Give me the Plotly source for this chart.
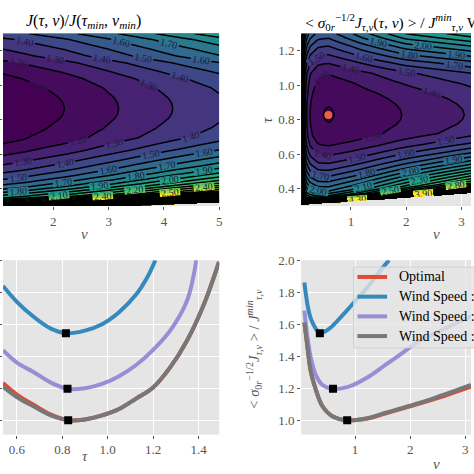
import numpy as np
import plotly.graph_objects as go

W = H = 474
SERIF = "Liberation Serif"
GRAY_TXT = "#555555"

# ---------------- values ----------------
# Top-left field J(tau,nu)/J(tau_min,nu_min): valley (along tau_opt) and rise profiles
A_valley_nu  = [0.10, 0.40, 0.85, 1.09, 1.50, 2.20, 3.18, 4.16, 5.00]
A_valley_val = [1.61, 1.08, 1.00, 1.01, 1.045, 1.10, 1.20, 1.30, 1.38]
A_tau_valley = 0.865
A_up_off     = [0.0, 0.03, 0.06, 0.12, 0.175, 0.22, 0.265, 0.305, 0.345, 0.40, 0.44, 0.50]
A_up_rise    = [0.0, 0.0016, 0.0065, 0.026, 0.062, 0.11, 0.165, 0.24, 0.29, 0.37, 0.46, 0.62]
A_lo_frac    = [0.0, 0.037, 0.072, 0.123, 0.19, 0.225, 0.271, 0.327, 0.395, 0.48, 0.574, 0.70, 0.796, 0.898, 0.949, 1.0]
A_lo_rise    = [6.0, 2.5, 1.5, 1.0, 0.755, 0.655, 0.555, 0.455, 0.355, 0.255, 0.155, 0.055, 0.026, 0.0065, 0.0016, 0.0]
A_scale_nu   = [1.0, 1.5, 3.0, 4.5, 5.0]
A_scale      = [1.0, 1.0, 1.1, 1.25, 1.3]
A_edge_nu    = [1.0, 5.0]
A_edge_tau   = [0.271, 0.32]

# Top-right field <sigma^-1/2 J>/J_min
B_valley_nu  = [0.10, 0.13, 0.17, 0.20, 0.26, 0.40, 0.50, 0.60, 0.70, 0.85, 1.00, 1.50, 1.92, 2.50, 3.05, 3.20]
B_valley_val = [2.30, 1.75, 1.50, 1.40, 1.30, 1.213, 1.20, 1.1955, 1.20, 1.207, 1.215, 1.26, 1.30, 1.35, 1.40, 1.415]
B_tau_valley = 0.83
B_up_off     = [0.0, 0.03, 0.06, 0.09, 0.12, 0.18, 0.24, 0.30, 0.35, 0.40, 0.445, 0.50]
B_up_rise    = [0.0, 0.0017, 0.0068, 0.0155, 0.028, 0.063, 0.11, 0.21, 0.31, 0.41, 0.51, 0.62]
B_lo_frac    = [0.0, 0.018, 0.033, 0.053, 0.082, 0.131, 0.18, 0.238, 0.297, 0.365, 0.443, 0.531, 0.639, 0.766, 0.883, 0.941, 1.0]
B_lo_rise    = [6.0, 3.0, 1.8, 1.3, 1.0, 0.81, 0.71, 0.61, 0.51, 0.41, 0.31, 0.21, 0.11, 0.028, 0.0068, 0.0017, 0.0]
B_up_scale_nu = [0.1, 0.6, 1.2, 2.0, 3.2]
B_up_scale    = [1.0, 1.0, 1.3, 1.6, 1.7]
B_lo_scale_nu = [0.1, 0.6, 1.2, 2.0, 3.2]
B_lo_scale    = [1.0, 1.0, 1.15, 1.4, 1.7]
B_edge_nu    = [0.1, 3.2]
B_edge_tau   = [0.307, 0.375]
B_opt_nu, B_opt_tau = [0.59], [0.828]

# Bottom-left: J vs tau
BL_red_tau  = [0.539, 0.6, 0.675, 0.75, 0.826, 0.9, 0.975, 1.05, 1.125, 1.2, 1.275, 1.35, 1.425, 1.49]
BL_red_J    = [1.232, 1.16, 1.095, 1.035, 1.0, 1.005, 1.03, 1.07, 1.135, 1.205, 1.33, 1.50, 1.73, 1.99]
BL_gray_tau = [0.539, 0.6, 0.675, 0.75, 0.826, 0.9, 0.975, 1.05, 1.125, 1.2, 1.275, 1.35, 1.425, 1.49]
BL_gray_J   = [1.21, 1.145, 1.085, 1.03, 1.0, 1.005, 1.03, 1.07, 1.135, 1.205, 1.33, 1.50, 1.73, 1.99]
BL_purp_tau = [0.539, 0.6, 0.675, 0.75, 0.823, 0.9, 0.975, 1.05, 1.125, 1.2, 1.275, 1.35, 1.39]
BL_purp_J   = [1.437, 1.36, 1.30, 1.235, 1.196, 1.20, 1.227, 1.275, 1.345, 1.44, 1.56, 1.75, 2.0]
BL_blue_tau = [0.539, 0.6, 0.675, 0.75, 0.816, 0.9, 0.975, 1.05, 1.125, 1.175, 1.21]
BL_blue_J   = [1.839, 1.74, 1.645, 1.572, 1.544, 1.56, 1.60, 1.675, 1.785, 1.895, 2.0]

# Bottom-right: J vs nu
BR_red_nu  = [0.078, 0.138, 0.197, 0.287, 0.407, 0.586, 0.856, 1.245, 1.544, 1.963, 2.44, 3.106]
BR_red_J   = [1.61, 1.447, 1.30, 1.19, 1.087, 1.025, 1.0, 1.012, 1.042, 1.083, 1.132, 1.21]
BR_gray_nu = [0.078, 0.138, 0.197, 0.287, 0.407, 0.586, 0.856, 1.245, 1.544, 1.963, 2.44, 3.106]
BR_gray_J  = [1.61, 1.447, 1.30, 1.19, 1.087, 1.025, 1.0, 1.014, 1.045, 1.087, 1.138, 1.22]
BR_purp_nu = [0.078, 0.138, 0.197, 0.287, 0.407, 0.598, 0.886, 1.245, 1.544, 1.843, 2.14, 2.44, 2.74, 3.106]
BR_purp_J  = [1.685, 1.51, 1.386, 1.282, 1.22, 1.196, 1.21, 1.272, 1.344, 1.416, 1.489, 1.54, 1.59, 1.65]
BR_blue_nu = [0.078, 0.138, 0.197, 0.287, 0.359, 0.527, 0.766, 1.005, 1.245, 1.424, 1.616]
BR_blue_J  = [1.86, 1.715, 1.633, 1.571, 1.544, 1.571, 1.654, 1.746, 1.839, 1.92, 2.0]

# minima markers
BL_min_tau = [0.816, 0.823, 0.826]
BL_min_J   = [1.544, 1.196, 1.0]
BR_min_nu  = [0.359, 0.598, 0.856]
BR_min_J   = [1.544, 1.196, 1.0]

legend_names = ["Optimal", "Wind Speed : 5 m/s", "Wind Speed : 10 m/s", "Wind Speed : 15 m/s"]
C_RED, C_BLUE, C_PURP, C_GRAY = "#E24A33", "#348ABD", "#988ED5", "#777777"
legend_colors = [C_RED, C_BLUE, C_PURP, C_GRAY]


def field(nu, tau, vnu, vval, tau0, uoff, urise, lfrac, lrise, sunu, su, slnu, sl, enu, etau):
    N, T = np.meshgrid(nu, tau)
    g = np.interp(N, vnu, vval)
    tb = np.interp(N, enu, etau)
    up = np.interp(T - tau0, uoff, urise) * np.interp(N, sunu, su)
    frac = (T - tb) / (tau0 - tb)
    lo = np.interp(frac, lfrac, lrise) * np.interp(N, slnu, sl)
    Z = np.where(T >= tau0, g + up, g + lo)
    Z = np.where(T < tb, np.nan, Z)
    return Z


nuA = np.linspace(1.0, 5.0, 400)
tauA = np.linspace(0.3, 1.3, 400)
ZA = field(nuA, tauA, A_valley_nu, A_valley_val, A_tau_valley, A_up_off, A_up_rise,
           A_lo_frac, A_lo_rise, A_scale_nu, A_scale, A_scale_nu, A_scale, A_edge_nu, A_edge_tau)
nuB = np.linspace(0.1, 3.2, 400)
tauB = np.linspace(0.3, 1.3, 400)
ZB = field(nuB, tauB, B_valley_nu, B_valley_val, B_tau_valley, B_up_off, B_up_rise,
           B_lo_frac, B_lo_rise, B_up_scale_nu, B_up_scale, B_lo_scale_nu, B_lo_scale, B_edge_nu, B_edge_tau)

fig = go.Figure()

def contour(x, y, z, start, zmin, zmax, xa, ya):
    return go.Contour(
        x=x, y=y, z=z, xaxis=xa, yaxis=ya, colorscale="Viridis", zmin=zmin, zmax=zmax,
        showscale=False, connectgaps=False, hoverinfo="skip",
        contours=dict(start=start, end=12, size=0.1, coloring="fill", showlabels=True,
                      labelfont=dict(family=SERIF, size=10, color="#1b1b3a"), labelformat=".2f"),
        line=dict(color="black", width=1.5), showlegend=False)

fig.add_trace(contour(nuA, tauA, ZA, 1.1, 1.0, 2.8, "x", "y"))
fig.add_trace(contour(nuB, tauB, ZB, 1.2, 1.19, 3.2, "x2", "y2"))
fig.add_trace(go.Scatter(x=B_opt_nu, y=B_opt_tau, xaxis="x2", yaxis="y2", mode="markers",
                         marker=dict(color="#EA6241", size=8), showlegend=False, hoverinfo="skip"))

def line(x, y, c, xa, ya):
    return go.Scatter(x=x, y=y, xaxis=xa, yaxis=ya, mode="lines",
                      line=dict(color=c, width=4, shape="spline", smoothing=1.0),
                      showlegend=False, hoverinfo="skip")

for (x, y, c) in [(BL_red_tau, BL_red_J, C_RED), (BL_blue_tau, BL_blue_J, C_BLUE),
                  (BL_purp_tau, BL_purp_J, C_PURP), (BL_gray_tau, BL_gray_J, C_GRAY)]:
    fig.add_trace(line(x, y, c, "x3", "y3"))
fig.add_trace(go.Scatter(x=BL_min_tau, y=BL_min_J, xaxis="x3", yaxis="y3", mode="markers",
                         marker=dict(symbol="square", color="black", size=8), showlegend=False))
for (x, y, c) in [(BR_red_nu, BR_red_J, C_RED), (BR_blue_nu, BR_blue_J, C_BLUE),
                  (BR_purp_nu, BR_purp_J, C_PURP), (BR_gray_nu, BR_gray_J, C_GRAY)]:
    fig.add_trace(line(x, y, c, "x4", "y4"))
fig.add_trace(go.Scatter(x=BR_min_nu, y=BR_min_J, xaxis="x4", yaxis="y4", mode="markers",
                         marker=dict(symbol="square", color="black", size=8), showlegend=False))

def px_x(p):
    return p / W

def px_y(p):
    return 1 - p / H

top_dom = [px_y(202), px_y(27)]
bot_dom = [px_y(434), px_y(257)]
left_dom = [0, px_x(219)]
right_dom = [px_x(302), 1]

tickfont = dict(family=SERIF, size=13, color=GRAY_TXT)
axis_common = dict(showgrid=True, gridcolor="white", gridwidth=1, zeroline=False, showline=False,
                   ticks="outside", ticklen=3, tickcolor=GRAY_TXT, tickfont=tickfont)

fig.update_layout(
    width=W, height=H, margin=dict(l=0, r=0, t=0, b=0),
    paper_bgcolor="white", plot_bgcolor="#E5E5E5", showlegend=False,
    xaxis=dict(domain=left_dom, range=[1.089, 5.0], anchor="y", tickvals=[1, 2, 3, 4, 5], **axis_common),
    yaxis=dict(domain=top_dom, range=[0.3, 1.3], anchor="x", tickvals=[0.4, 0.6, 0.8, 1.0, 1.2],
               showticklabels=False, **axis_common),
    xaxis2=dict(domain=right_dom, range=[0.1, 3.171], anchor="y2", tickvals=[1, 2, 3, 4, 5], **axis_common),
    yaxis2=dict(domain=top_dom, range=[0.3, 1.3], anchor="x2", tickvals=[0.4, 0.6, 0.8, 1.0, 1.2],
                tickformat=".1f", **axis_common),
    xaxis3=dict(domain=left_dom, range=[0.539, 1.491], anchor="y3", tickvals=[0.6, 0.8, 1.0, 1.2, 1.4],
                tickformat=".1f", **axis_common),
    yaxis3=dict(domain=bot_dom, range=[0.91, 2.0], anchor="x3", tickvals=[1.0, 1.2, 1.4, 1.6, 1.8, 2.0],
                showticklabels=False, **axis_common),
    xaxis4=dict(domain=right_dom, range=[0.02, 3.106], anchor="y4", tickvals=[0, 1, 2, 3, 4, 5], **axis_common),
    yaxis4=dict(domain=bot_dom, range=[0.91, 2.0], anchor="x4", tickvals=[1.0, 1.2, 1.4, 1.6, 1.8, 2.0],
                tickformat=".1f", **axis_common),
)

ann = []
def add_text(x, y, text, size=14, color="black", xanchor="center", angle=0):
    ann.append(dict(x=px_x(x), y=px_y(y), xref="paper", yref="paper", text=text, showarrow=False,
                    xanchor=xanchor, yanchor="middle", textangle=angle,
                    font=dict(family=SERIF, size=size, color=color)))

add_text(82, 15, "<i>J</i>(<i>τ</i>, <i>ν</i>)/<i>J</i>(<i>τ<sub>min</sub></i>, <i>ν<sub>min</sub></i>)", 16)
add_text(304, 15, "&lt; <i>σ</i><sub>0<i>r</i></sub><sup>−1/2</sup><i>J</i><sub><i>τ,ν</i></sub>(<i>τ</i>, <i>ν</i>) &gt; / <i>J</i><sup><i>min</i></sup><sub><i>τ,ν</i></sub> Wind Speed : 10 m/s",
         15.5, xanchor="left")
add_text(83, 230, "<i>ν</i>", 15, GRAY_TXT)
add_text(439, 230, "<i>ν</i>", 15, GRAY_TXT)
add_text(268, 115, "<i>τ</i>", 15, GRAY_TXT, angle=-90)
add_text(83, 456, "<i>τ</i>", 15, GRAY_TXT)
add_text(439, 464, "<i>ν</i>", 15, GRAY_TXT)
add_text(254, 347, "&lt; <i>σ</i><sub>0<i>r</i></sub><sup>−1/2</sup><i>J</i><sub><i>τ,ν</i></sub> &gt; / <i>J</i><sup><i>min</i></sup><sub><i>τ,ν</i></sub>",
         14.5, GRAY_TXT, angle=-90)

# legend box (manual)
shapes = [dict(type="rect", xref="paper", yref="paper", x0=px_x(355), x1=px_x(490), y0=px_y(346), y1=px_y(264),
               fillcolor="rgba(229,229,229,0.8)", line=dict(color="rgba(204,204,204,0.8)", width=1), layer="above")]
for i, (name, c) in enumerate(zip(legend_names, legend_colors)):
    yy = 274 + 20 * i
    shapes.append(dict(type="line", xref="paper", yref="paper", x0=px_x(359), x1=px_x(389), y0=px_y(yy), y1=px_y(yy),
                       line=dict(color=c, width=4), layer="above"))
    add_text(399, yy, name, 14, "black", xanchor="left")

fig.update_layout(annotations=ann, shapes=shapes)
fig.write_html("out.html")
